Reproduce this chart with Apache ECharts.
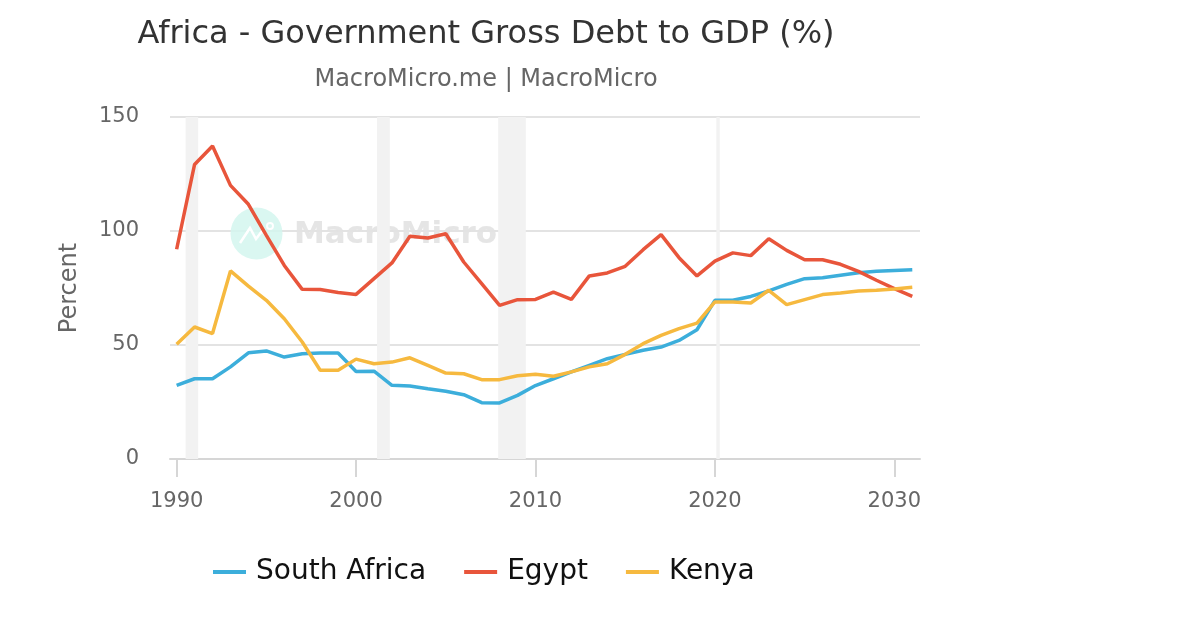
<!DOCTYPE html>
<html>
<head>
<meta charset="utf-8">
<script src="https://cdn.jsdelivr.net/npm/echarts@6/dist/echarts.min.js"></script>
<style>
  html, body { margin: 0; padding: 0; background: #fff; }
  #chart { width: 1200px; height: 630px; }
</style>
</head>
<body>
<div id="chart"></div>
<script>
// years on the x axis (one point per year)
const years = [
  1990, 1991, 1992, 1993, 1994, 1995, 1996, 1997, 1998, 1999,
  2000, 2001, 2002, 2003, 2004, 2005, 2006, 2007, 2008, 2009,
  2010, 2011, 2012, 2013, 2014, 2015, 2016, 2017, 2018, 2019,
  2020, 2021, 2022, 2023, 2024, 2025, 2026, 2027, 2028, 2029,
  2030, 2031
]

const southAfrica = [
  32.3, 35.2, 35.2, 40.4, 46.6, 47.4, 44.7, 46.2, 46.5, 46.5,
  38.4, 38.5, 32.3, 32.0, 30.8, 29.7, 28.2, 24.7, 24.6, 27.9,
  32.2, 35.2, 38.2, 41.1, 44.0, 45.9, 47.7, 49.1, 52.0, 56.7,
  69.6, 69.6, 71.3, 73.7, 76.6, 79.1, 79.5, 80.6, 81.7, 82.3,
  82.7, 83.0
]

const egypt = [
  92.0, 129.2, 137.3, 120.0, 111.7, 98.1, 84.9, 74.4, 74.3, 73.0,
  72.2, 79.1, 86.0, 97.7, 96.9, 98.8, 86.4, 76.9, 67.4, 69.9,
  70.0, 73.2, 70.0, 80.3, 81.6, 84.5, 91.8, 98.4, 88.3, 80.3,
  86.8, 90.4, 89.2, 96.6, 91.5, 87.4, 87.4, 85.4, 82.3, 78.4,
  74.7, 71.3
]

const kenya = [
  50.3, 57.9, 55.0, 82.5, 75.8, 69.6, 61.5, 51.3, 38.9, 38.9,
  43.8, 41.8, 42.5, 44.4, 41.1, 37.7, 37.4, 34.8, 34.8, 36.5,
  37.2, 36.3, 38.2, 40.4, 41.8, 45.9, 50.6, 54.2, 57.2, 59.6,
  68.9, 68.9, 68.4, 74.0, 67.7, 69.9, 72.1, 72.8, 73.7, 74.0,
  74.6, 75.3
]

// shaded recession periods (fractional years)
const recessionStart = [1990.5, 2001.17, 2007.92, 2020.08]
const recessionEnd = [1991.2, 2001.88, 2009.46, 2020.27]

const xTicks = [1990, 2000, 2010, 2020, 2030]
const yTicks = [0, 50, 100, 150]

const toPairs = (vals) => years.map((y, i) => [y, vals[i]])

const chart = echarts.init(document.getElementById('chart'))

const font = 'DejaVu Sans'

chart.setOption({
  animation: false,
  textStyle: { fontFamily: font },
  title: [
    {
      text: 'Africa - Government Gross Debt to GDP (%)',
      left: 481, top: 14, textAlign: 'center',
      textStyle: { fontSize: 32, fontWeight: 'normal', color: '#333', fontFamily: font }
    },
    {
      text: 'MacroMicro.me | MacroMicro',
      left: 481, top: 63, textAlign: 'center',
      textStyle: { fontSize: 24, fontWeight: 'normal', color: '#666', fontFamily: font }
    }
  ],
  // watermark
  graphic: [
    { type: 'circle', shape: { cx: 256.5, cy: 233.5, r: 26 }, style: { fill: '#d4f6ee', opacity: 0.85 }, z: 1, silent: true },
    { type: 'polyline', shape: { points: [[240, 243], [250, 228], [256, 239], [262, 231], [269, 239]] },
      style: { stroke: '#fff', lineWidth: 2.5, fill: null }, z: 1, silent: true },
    { type: 'circle', shape: { cx: 270, cy: 226, r: 3 }, style: { stroke: '#fff', lineWidth: 2, fill: null }, z: 1, silent: true },
    { type: 'text', x: 294, y: 235, style: { text: 'MacroMicro', font: 'bold 31px DejaVu Sans', fill: '#e2e2e2', textVerticalAlign: 'middle', opacity: 0.9 }, z: 1, silent: true }
  ],
  grid: { left: 170, right: 280, top: 117, bottom: 171 },
  legend: {
    left: 213, top: 558, padding: 0,
    itemWidth: 33, itemHeight: 4, itemGap: 38,
    icon: 'rect',
    textStyle: { fontSize: 28, color: '#111', fontFamily: font, padding: [0, 0, 0, 5] },
    data: ['South Africa', 'Egypt', 'Kenya']
  },
  xAxis: {
    type: 'value',
    min: 1989.63, max: 2031.43,
    axisLine: { lineStyle: { color: '#d6d6d6', width: 2 } },
    axisTick: { show: true, length: 18, customValues: xTicks, lineStyle: { color: '#d6d6d6', width: 2 } },
    axisLabel: { customValues: xTicks, formatter: (v) => String(v), color: '#666', fontSize: 21, margin: 32, fontFamily: font },
    splitLine: { show: false }
  },
  yAxis: {
    type: 'value',
    min: 0, max: 150, interval: 50,
    name: 'Percent', nameLocation: 'middle', nameRotate: 90, nameGap: 88,
    nameTextStyle: { fontSize: 24, color: '#666', fontFamily: font },
    axisLine: { show: false },
    axisTick: { show: false },
    axisLabel: { color: '#666', fontSize: 21, margin: 31, fontFamily: font,
      customValues: yTicks },
    splitLine: { lineStyle: { color: '#e3e3e3', width: 2 } }
  },
  series: [
    {
      name: 'South Africa', type: 'line', data: toPairs(southAfrica),
      symbol: 'none', lineStyle: { width: 3.5, color: '#3caedb' }, itemStyle: { color: '#3caedb' }, z: 4,
      markArea: {
        silent: true,
        itemStyle: { color: '#f2f2f2' },
        data: recessionStart.map((s, i) => [{ xAxis: s }, { xAxis: recessionEnd[i] }])
      }
    },
    {
      name: 'Egypt', type: 'line', data: toPairs(egypt),
      symbol: 'none', lineStyle: { width: 3.5, color: '#e8553b' }, itemStyle: { color: '#e8553b' }, z: 4
    },
    {
      name: 'Kenya', type: 'line', data: toPairs(kenya),
      symbol: 'none', lineStyle: { width: 3.5, color: '#f6b93f' }, itemStyle: { color: '#f6b93f' }, z: 4
    }
  ]
})
</script>
</body>
</html>
